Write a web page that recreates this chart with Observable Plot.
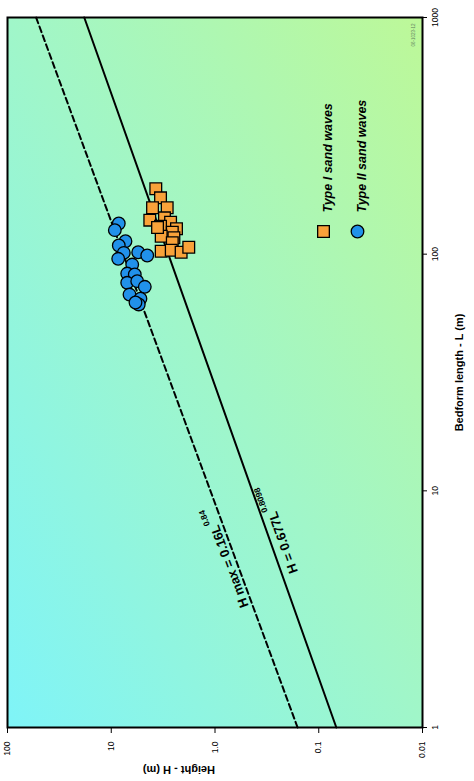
<!DOCTYPE html>
<html>
<head>
<meta charset="utf-8">
<script src="https://cdn.jsdelivr.net/npm/d3@7"></script>
<script src="https://cdn.jsdelivr.net/npm/@observablehq/plot@0.6"></script>
<style>
  html, body { margin: 0; padding: 0; background: white; overflow: hidden; }
  #wrap { position: relative; width: 474px; height: 781px; overflow: hidden; background: white; }
</style>
</head>
<body>
<div id="wrap"></div>
<script>
// ---- Data ----
// Type I sand waves: bedform length L (m) and height H (m)
const typeI_L = [188.9, 173.0, 157.0, 157.0, 139.2, 142.4, 136.5, 131.3, 128.0, 123.8, 119.1, 117.3, 111.7, 102.9, 103.9, 101.9, 107.0, 129.6];
const typeI_H = [3.72, 3.35, 4.00, 2.89, 4.25, 3.07, 2.68, 3.35, 2.35, 2.58, 3.30, 2.49, 2.58, 3.30, 2.64, 2.12, 1.79, 3.58];
// Type II sand waves
const typeII_L = [134.8, 126.3, 113.4, 108.8, 101.3, 95.6, 101.9, 98.7, 90.4, 82.8, 82.1, 75.7, 76.9, 72.8, 67.5, 64.8, 61.3, 62.5];
const typeII_H = [8.46, 9.24, 7.29, 8.46, 7.57, 8.57, 5.50, 4.50, 6.28, 7.02, 5.93, 7.02, 5.62, 4.75, 6.67, 5.23, 5.43, 5.84];

// Fit lines (end points at L = 1 and L = 1000)
const lineL = [1, 1000];
const meanH = [0.0677, 18.2];   // H = 0.677L^0.8098 (solid)
const maxH = [0.16, 52.98];     // H max = 0.16L^0.84 (dashed)

// Tick values / labels
const lTicks = [1, 10, 100, 1000];
const lTickLabels = ["1", "10", "100", "1000"];
const hTicks = [100, 10, 1, 0.1, 0.01];
const hTickLabels = ["100", "10", "1.0", "0.1", "0.01"];

// Label anchors on the lines
const maxLabel = {L: 7.4, H: 0.860, text: "H max = 0.16L", sup: "0.84"};
const meanLabel = {L: 7.9, H: 0.361, text: "H = 0.677L", sup: "0.8098"};

const legendItems = ["Type I sand waves", "Type II sand waves"];

// ---- Build ----
const typeI = typeI_L.map((L, i) => ({L, H: typeI_H[i]}));
const typeII = typeII_L.map((L, i) => ({L, H: typeII_H[i]}));
const solid = lineL.map((L, i) => ({L, H: meanH[i]}));
const dashed = lineL.map((L, i) => ({L, H: maxH[i]}));

const W = 781, Hh = 474;
const mL = 53, mR = 18, mT = 7, mB = 52;
const pxPerDecX = (W - mL - mR) / 3;
const pxPerDecY = (Hh - mT - mB) / 4;
const angMax = Math.atan(0.84 * pxPerDecY / pxPerDecX) * 180 / Math.PI;
const angMean = Math.atan(0.8098 * pxPerDecY / pxPerDecX) * 180 / Math.PI;

// offset helper: p = perpendicular (up positive), s = along line
function off(a, p, s) {
  const r = a * Math.PI / 180;
  return {dx: -p * Math.sin(r) + s * Math.cos(r), dy: -p * Math.cos(r) - s * Math.sin(r)};
}

const font = "'Liberation Sans', Arial, Helvetica, sans-serif";
const squareCol = "#f9a23a";
const circleCol = "#2191ea";

const chart = Plot.plot({
  width: W,
  height: Hh,
  marginLeft: mL,
  marginRight: mR,
  marginTop: mT,
  marginBottom: mB,
  style: {fontFamily: font, fontSize: "8.5px", color: "black", background: "white", maxWidth: "none", overflow: "visible"},
  x: {type: "log", domain: [1, 1000], ticks: lTicks, tickFormat: (d) => lTickLabels[lTicks.indexOf(d)], tickSize: 5, tickPadding: 4, label: null},
  y: {type: "log", domain: [0.01, 100], ticks: hTicks, tickFormat: (d) => hTickLabels[hTicks.indexOf(d)], tickSize: 5, tickPadding: 9, label: null},
  marks: [
    Plot.frame({fill: "url(#bggrad)"}),
    Plot.line(dashed, {x: "L", y: "H", stroke: "black", strokeWidth: 2, strokeDasharray: "6,3.5"}),
    Plot.line(solid, {x: "L", y: "H", stroke: "black", strokeWidth: 2}),
    Plot.dot(typeII, {x: "L", y: "H", r: 6.3, symbol: "circle", fill: circleCol, stroke: "black", strokeWidth: 1.3}),
    Plot.dot(typeI, {x: "L", y: "H", r: 6.6, symbol: "square", fill: squareCol, stroke: "black", strokeWidth: 1.3}),
    // line labels
    Plot.text([maxLabel], {x: "L", y: "H", text: "text", rotate: -angMax, textAnchor: "end", fontSize: 13, fontWeight: "bold", ...off(angMax, 8, -1)}),
    Plot.text([maxLabel], {x: "L", y: "H", text: "sup", rotate: -angMax, textAnchor: "start", fontSize: 8.5, fontWeight: "bold", ...off(angMax, 15, 1)}),
    Plot.text([meanLabel], {x: "L", y: "H", text: "text", rotate: -angMean, textAnchor: "end", fontSize: 13, fontWeight: "bold", ...off(angMean, -12, -1)}),
    Plot.text([meanLabel], {x: "L", y: "H", text: "sup", rotate: -angMean, textAnchor: "start", fontSize: 8.5, fontWeight: "bold", ...off(angMean, -5, 1)}),
    // legend
    Plot.dot([0], {frameAnchor: "top-left", dx: 496, dy: 316, r: 6.6, symbol: "square", fill: squareCol, stroke: "black", strokeWidth: 1.3}),
    Plot.dot([0], {frameAnchor: "top-left", dx: 496, dy: 350, r: 6.3, symbol: "circle", fill: circleCol, stroke: "black", strokeWidth: 1.3}),
    Plot.text([legendItems[0]], {frameAnchor: "top-left", dx: 515, dy: 316, textAnchor: "start", fontSize: 12.5, fontWeight: "bold", fontStyle: "italic"}),
    Plot.text([legendItems[1]], {frameAnchor: "top-left", dx: 515, dy: 350, textAnchor: "start", fontSize: 12.5, fontWeight: "bold", fontStyle: "italic"}),
    // axis titles
    Plot.text(["Bedform length - L (m)"], {frameAnchor: "bottom", dy: 40, fontSize: 11, fontWeight: "bold"}),
    Plot.text(["Height - H (m)"], {frameAnchor: "left", dx: -42, rotate: -90, fontSize: 11, fontWeight: "bold"}),
    // figure code
    Plot.text(["06-1023-12"], {frameAnchor: "bottom-right", dx: -6, dy: -8, textAnchor: "end", fontSize: 4.5, fill: "#5f7f5f"}),
    Plot.frame({stroke: "black", strokeWidth: 2})
  ]
});

// gradient definition
const svg = d3.select(chart);
const defs = svg.insert("defs", ":first-child");
const g = defs.append("linearGradient").attr("id", "bggrad")
  .attr("x1", 0).attr("y1", 0).attr("x2", 1).attr("y2", 1);
g.append("stop").attr("offset", "0%").attr("stop-color", "#7ff4f8");
g.append("stop").attr("offset", "50%").attr("stop-color", "#a0f6c9");
g.append("stop").attr("offset", "100%").attr("stop-color", "#bdf898");

chart.style.position = "absolute";
chart.style.left = "0px";
chart.style.top = "0px";
chart.style.transformOrigin = "0 0";
chart.style.transform = "translate(0px, 781px) rotate(-90deg)";

document.getElementById("wrap").appendChild(chart);
</script>
</body>
</html>
